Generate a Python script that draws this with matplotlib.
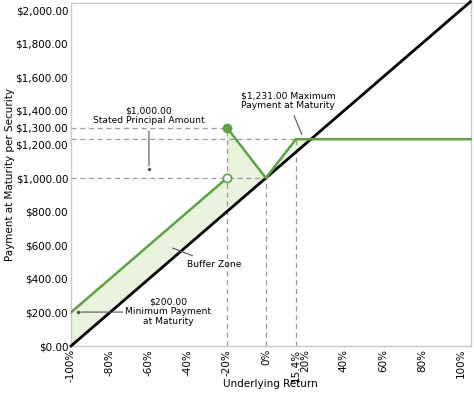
import numpy as np
import matplotlib
matplotlib.use("Agg")
import matplotlib.pyplot as plt

# underlying return (fraction) and payment at maturity per security
note_x = [-1.0, -0.20]
note_y = [200.0, 1000.0]
note2_x = [-0.20, 0.0, 0.154, 1.05]
note2_y = [1300.0, 1000.0, 1231.0, 1231.0]
stock_x = [-1.0, 1.05]
stock_y = [0.0, 2050.0]

x_ticks = [-1.0, -0.8, -0.6, -0.4, -0.2, 0.0, 0.154, 0.2, 0.4, 0.6, 0.8, 1.0]
y_ticks = [0, 200, 400, 600, 800, 1000, 1200, 1300, 1400, 1600, 1800, 2000]

green = "#5ba443"
fillc = "#e9f3de"
grey = "#9a9a9a"

plt.rcParams['font.family'] = ['DejaVu Sans']
fig = plt.figure(figsize=(4.74, 3.95), dpi=100)
ax = fig.add_axes([71/474, 1-346/395, (470.5-71)/474, (346-3)/395])
ax.set_xlim(-1.0, 1.05)
ax.set_ylim(0, 2042)

# buffer zone shading: between note payoff and stock line
fx = np.array([-1.0, -0.2, -0.2, 0.0, 0.154, 0.231])
fy_note = np.array([200.0, 1000.0, 1300.0, 1000.0, 1231.0, 1231.0])
fy_stock = 1000.0 * (1 + fx)
ax.fill_between(fx[:2], fy_note[:2], fy_stock[:2], color=fillc, lw=0, zorder=1)
ax.fill_between(fx[2:], fy_note[2:], fy_stock[2:], color=fillc, lw=0, zorder=1)

# reference dashed lines
dash = dict(color=grey, lw=0.9, ls=(0, (4, 3)), zorder=2)
ax.plot([-1.0, -0.2], [1300, 1300], **dash)
ax.plot([-1.0, 0.154], [1231, 1231], **dash)
ax.plot([-1.0, 0.0], [1000, 1000], **dash)
ax.plot([-0.2, -0.2], [0, 1300], **dash)
ax.plot([0.0, 0.0], [0, 1000], **dash)
ax.plot([0.154, 0.154], [0, 1231], **dash)

ax.plot(stock_x, stock_y, color="black", lw=2.0, zorder=3, clip_on=False)
ax.plot(note_x, note_y, color=green, lw=1.8, zorder=4)
ax.plot(note2_x, note2_y, color=green, lw=1.8, zorder=4, clip_on=False)
ax.plot([-0.2], [1300], "o", ms=6, color=green, zorder=5)
ax.plot([-0.2], [1000], "o", ms=6, mfc="white", mec=green, mew=1.2, zorder=5)

ax.set_xticks(x_ticks)
ax.set_xticklabels([f"{v*100:g}%" for v in x_ticks], rotation=90, fontsize=7.5)
ax.set_yticks(y_ticks)
ax.set_yticklabels([f"${v:,.2f}" for v in y_ticks], fontsize=7.5)
ax.tick_params(length=0, pad=2)
for s in ax.spines.values():
    s.set_color("#c8c8c8")
    s.set_linewidth(1.0)

ax.set_xlabel("Underlying Return", fontsize=7.5, va="center")
ax.xaxis.set_label_coords(0.5, -38/343)
ax.set_ylabel("Payment at Maturity per Security", fontsize=7.5, va="center")
ax.yaxis.set_label_coords(-61/400, 0.5)

arr = dict(arrowstyle="-", color="#555555", lw=0.8)
ax.annotate("$1,000.00\nStated Principal Amount", xy=(-0.60, 1055), xytext=(-0.60, 1370),
            ha="center", va="center", fontsize=6.6, arrowprops=arr, linespacing=1.15)
ax.plot([-0.60], [1055], "o", ms=1.5, color="#555555", zorder=6)
ax.annotate("$1,231.00 Maximum\nPayment at Maturity", xy=(0.19, 1244), xytext=(0.113, 1460),
            ha="center", va="center", fontsize=6.6, arrowprops=arr, linespacing=1.15)
ax.annotate("Buffer Zone", xy=(-0.492, 589), xytext=(-0.405, 488),
            ha="left", va="center", fontsize=6.6, arrowprops=arr)
ax.text(-0.50, 205, "$200.00\nMinimum Payment\nat Maturity", ha="center", va="center",
        fontsize=6.6, linespacing=1.15)
ax.annotate("", xy=(-0.964, 202), xytext=(-0.72, 202), arrowprops=arr)
ax.plot([-0.964], [202], "o", ms=1.5, color="#555555", zorder=6)

fig.savefig("out.png", dpi=100)
